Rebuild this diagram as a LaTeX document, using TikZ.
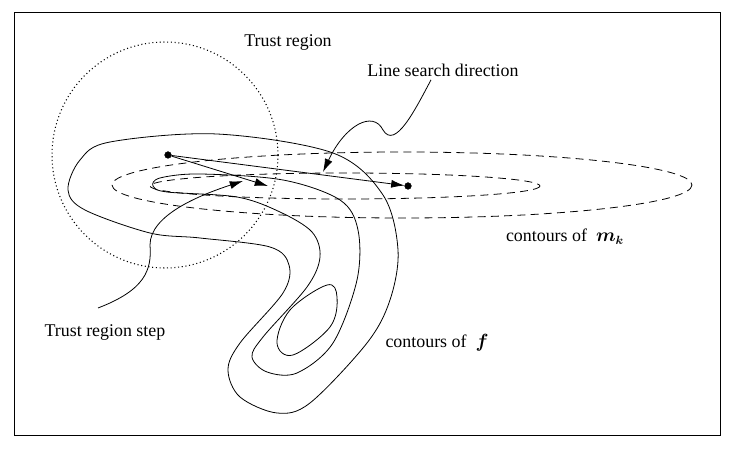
\documentclass[tikz,border=0pt]{standalone}
\usepackage{amsmath}
\usepackage{bm}
\usepackage{fontspec}
\setmainfont{Liberation Serif}
\usetikzlibrary{calc}
\usetikzlibrary{positioning}
\usetikzlibrary{arrows.meta}

\begin{document}
\begin{tikzpicture}[x=0.0265cm,y=-0.0265cm]
    \tikzstyle{point}=[draw, fill, circle, inner sep=0pt, minimum size=5pt]
    \tikzstyle{label}=[inner sep=1pt, font=\fontsize{13.5}{15}\selectfont]
    \tikzstyle{tip}=[semithick, -{Latex[length=10pt,width=6pt]}]
    \tikzstyle{contour}=[semithick, smooth cycle, tension=0.55]
    \tikzstyle{model}=[semithick, dash pattern=on 6pt off 4pt]

    \useasboundingbox (0,0) rectangle (735,449);
    \draw (14,12) rectangle (720,435);

    % Trust region and model contours
    \draw[dotted, thick] (165,155) circle (113);
    \draw[model] (402,185) ellipse (290 and 33);
    \draw[model] (345,186) ellipse (195 and 13);

    % Contours of f
    \draw[contour] plot coordinates {
      (110,142) (217,134) (333,153) (383,195) (398,250) (390,300)
      (367,343) (310,403) (277,413) (240,397) (228,370) (240,343)
      (283,293) (289,265) (270,247) (200,238) (150,233) (85,210)
      (68,190) (80,160)};
    \draw[contour] plot coordinates {
      (160,178) (200,174) (283,180) (340,200) (358,230) (357,280)
      (333,343) (297,373) (267,372) (252,357) (263,337) (307,287)
      (320,257) (312,232) (280,212) (237,197) (167,192) (153,186)};
    \draw[contour, tension=0.6] plot coordinates {
      (327,285) (337,297) (330,327) (293,355) (277,343) (290,310)};

    % Points and steps
    \node[point] (xk) at (168,155) {};
    \node[point] (xls) at (408,186) {};
    \coordinate (xtr) at (268,186);
    \draw[tip] (xk) -- (xls);
    \draw[tip] (xk) -- (xtr);

    % Labels
    \node[label] (tr) at (288,43) {Trust region};
    \node[label] (ls) at (443,70) {Line search direction};
    \node[label] (mk) at (565,237) {contours of \ $\bm{m_k}$};
    \node[label] (trs) at (105,333) {Trust region step};
    \node[label] (cf) at (437,343) {contours of \ $\bm{f}$};

    \coordinate (lstip) at (323,172);
    \coordinate (trstip) at (243,181);
    \draw[tip] (ls.south) ++(-12,2) .. controls (415,110) and (395,150) .. (383,130)
      .. controls (373,110) and (345,125) .. (lstip);
    \draw[tip] (98,308) .. controls (145,290) and (152,270) .. (150,245)
      .. controls (150,215) and (200,195) .. (trstip);
\end{tikzpicture}
\end{document}
